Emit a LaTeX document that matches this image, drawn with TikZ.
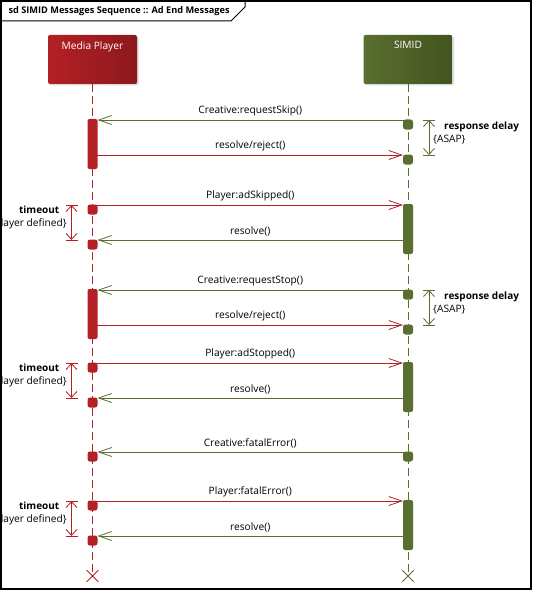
\documentclass[tikz,border=0pt]{standalone}
\usepackage{fontspec}
\setmainfont{Open Sans}
\usetikzlibrary{math,arrows.meta,shapes.misc,shadows}
\definecolor{mpred}{HTML}{B32025}
\definecolor{mpdark}{HTML}{8C191D}
\definecolor{simgreen}{HTML}{5A6E2F}
\definecolor{simdark}{HTML}{42531F}

\begin{document}
\begin{tikzpicture}[x=1pt,y=-1pt,font=\fontsize{10.2}{12}\selectfont,
    actor/.style={rounded corners=2pt,minimum width=89pt,minimum height=49pt,inner sep=0pt,
      drop shadow={shadow xshift=1.5pt,shadow yshift=-1.5pt,opacity=0.3}},
    lifeline/.style={draw=#1,line width=0.8pt,dash pattern=on 8pt off 4pt},
    endmark/.style={cross out,draw=#1,line width=0.8pt,minimum size=11pt,inner sep=0pt},
    msg/.style={draw=#1,line width=0.8pt,-{Straight Barb[length=13pt,width=9pt]},shorten >=5pt},
    actbar/.style={fill=#1,rounded corners=2pt,minimum width=10pt,inner sep=0pt},
    actdot/.style={fill=#1,rounded corners=2.5pt,minimum size=10pt,inner sep=0pt},
    delay/.style={draw=#1,line width=0.8pt,{Straight Barb[length=6pt,width=11pt]}-{Straight Barb[length=6pt,width=11pt]}},
    note/.style={inner sep=0pt}]
  \tikzmath{\p = 92.5; \s = 408; \ta = 71.5; \ra = 429;}
  \useasboundingbox (0,0) rectangle (533,591);
  \draw[line width=1.4pt] (1,1) rectangle (531,589);
  \draw[line width=1pt] (1,21) -- (231,21) -- (245,7) -- (245,1);
  \node[anchor=west,font=\fontsize{9.2}{12}\selectfont\bfseries] (title) at (5,11) {sd SIMID Messages Sequence :: Ad End Messages};

  \node[actor,left color=mpred,right color=mpdark,
    label={[text=white,anchor=north,yshift=-3pt]north:Media Player}] (mp) at (\p,59.5) {};
  \node[actor,left color=simgreen,right color=simdark,
    label={[text=white,anchor=north,yshift=-3pt]north:SIMID}] (sim) at (\s,59.5) {};
  \node[endmark=mpred] (mpx) at (\p,576) {};
  \node[endmark=simgreen] (simx) at (\s,576) {};
  \draw[lifeline=mpred] (mp.south) -- (mpx.center);
  \draw[lifeline=simgreen] (sim.south) -- (simx.center);

  \foreach \n/\y in {1/120,2/155,3/205,4/240,5/290,6/325,7/363,8/398,9/452,10/501,11/536}
    {\coordinate (p\n) at (\p,\y); \coordinate (s\n) at (\s,\y);}

  \draw[msg=simgreen] (s1) -- (p1) node[midway,above] (l1) {Creative:requestSkip()};
  \draw[msg=mpred] (p2) -- (s2) node[midway,above] (l2) {resolve/reject()};
  \draw[msg=mpred] (p3) -- (s3) node[midway,above] (l3) {Player:adSkipped()};
  \draw[msg=simgreen] (s4) -- (p4) node[midway,above] (l4) {resolve()};
  \draw[msg=simgreen] (s5) -- (p5) node[midway,above] (l5) {Creative:requestStop()};
  \draw[msg=mpred] (p6) -- (s6) node[midway,above] (l6) {resolve/reject()};
  \draw[msg=mpred] (p7) -- (s7) node[midway,above] (l7) {Player:adStopped()};
  \draw[msg=simgreen] (s8) -- (p8) node[midway,above] (l8) {resolve()};
  \draw[msg=simgreen] (s9) -- (p9) node[midway,above] (l9) {Creative:fatalError()};
  \draw[msg=mpred] (p10) -- (s10) node[midway,above] (l10) {Player:fatalError()};
  \draw[msg=simgreen] (s11) -- (p11) node[midway,above] (l11) {resolve()};

  \node[actbar=mpred,minimum height=50pt] (pb1) at (\p,144) {};
  \node[actbar=mpred,minimum height=50pt] (pb2) at (\p,314) {};
  \node[actbar=simgreen,minimum height=50pt] (sb1) at (\s,229) {};
  \node[actbar=simgreen,minimum height=50pt] (sb2) at (\s,387) {};
  \node[actbar=simgreen,minimum height=50pt] (sb3) at (\s,525) {};
  \foreach \n in {1,2,5,6,9}
    \node[actdot=simgreen] (sd\n) at ([yshift=-4.5pt]s\n) {};
  \foreach \n in {3,4,7,8,9,10,11}
    \node[actdot=mpred] (pd\n) at ([yshift=-4.5pt]p\n) {};

  \foreach \a/\b/\k in {1/2/1,5/6/2} {
    \coordinate (ra\k) at (\ra,0 |- s\a);
    \coordinate (rb\k) at (\ra,0 |- s\b);
    \draw[delay=simgreen] (ra\k) -- (rb\k);
    \draw[simgreen,line width=0.8pt] ([xshift=-6pt]ra\k) -- ([xshift=6pt]ra\k);
    \draw[simgreen,line width=0.8pt] ([xshift=-6pt]rb\k) -- ([xshift=6pt]rb\k);
    \node[note,anchor=west,font=\bfseries] (rd\k) at ([shift={(15pt,-7pt)}]ra\k) {response delay};
    \node[note,anchor=west] (asap\k) at ([shift={(4pt,-19.5pt)}]ra\k) {\{ASAP\}};
  }
  \foreach \a/\b/\k in {3/4/1,7/8/2,10/11/3} {
    \coordinate (ta\k) at (\ta,0 |- p\a);
    \coordinate (tb\k) at (\ta,0 |- p\b);
    \draw[delay=mpred] (ta\k) -- (tb\k);
    \draw[mpred,line width=0.8pt] ([xshift=-6pt]ta\k) -- ([xshift=6pt]ta\k);
    \draw[mpred,line width=0.8pt] ([xshift=-6pt]tb\k) -- ([xshift=6pt]tb\k);
    \node[note,anchor=east,font=\bfseries] (to\k) at ([shift={(-12pt,-4.5pt)}]ta\k) {timeout};
    \node[note,anchor=east] (pl\k) at ([shift={(-4.5pt,-18.5pt)}]ta\k) {\{player defined\}};
  }
\end{tikzpicture}
\end{document}
